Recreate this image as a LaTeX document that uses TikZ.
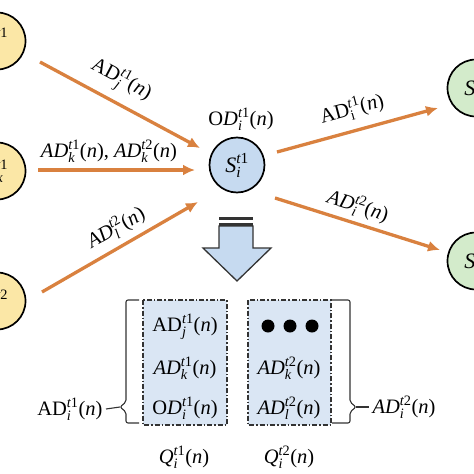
\documentclass[tikz,border=0pt]{standalone}
\usepackage{amsmath}
\usepackage{fontspec}
\setmainfont{Liberation Serif}
\usetikzlibrary{arrows.meta}
\definecolor{arrc}{HTML}{D9813F}
\definecolor{ylw}{HTML}{FBE7A6}
\definecolor{blu}{HTML}{C6DAF0}
\definecolor{grn}{HTML}{D3EBCB}
\definecolor{boxb}{HTML}{DAE6F4}
\definecolor{dk}{HTML}{333333}
\newcommand\lab[3]{$\text{#1}^{\text{\itshape t\upshape #2}}_{\text{#3}}$(\textit{n})}
\newcommand\ess[2]{$\text{\itshape S}^{\text{\itshape t\upshape #1}}_{\text{\itshape #2}}$}
\begin{document}
\begin{tikzpicture}[x=1pt,y=-1pt,
  every node/.style={font=\fontsize{20.5}{23}\selectfont},
  circ/.style={circle,draw=black,line width=1.7pt,minimum size=57pt,inner sep=0pt},
  ycirc/.style={circ,fill=ylw},
  bcirc/.style={circ,fill=blu,minimum size=55pt,font=\fontsize{22}{24}\selectfont},
  gcirc/.style={circ,fill=grn,font=\fontsize{22}{24}\selectfont},
  arr/.style={draw=arrc,line width=3.3pt,-{Latex[length=12pt,width=11pt]}},
  qbox/.style={draw=dk,fill=boxb,line width=1.3pt,dash pattern=on 5pt off 2pt on 1.5pt off 2pt},
  brk/.style={draw=dk,line width=1.1pt,rounded corners=2pt},
  dot/.style={circle,fill=black,minimum size=13pt,inner sep=0pt}]
\useasboundingbox (0,0) rectangle (474,474);
% circles
\node[ycirc] (yl1) at (-3,41) {\ess{1}{j}};
\node[ycirc] (yl2) at (-3,171) {\ess{1}{k}};
\node[ycirc] (yl3) at (-3,301) {\ess{2}{l}};
\node[bcirc] (c) at (237,165) {\ess{1}{i}};
\node[gcirc] (g1) at (476,88) {\ess{1}{m}};
\node[gcirc] (g2) at (476,261) {\ess{2}{m}};
\node (od) at (241,119) {\lab{O\itshape D}{1}{\itshape i}};
% arrow ends
\coordinate (a1s) at (40,62);  \coordinate (a1e) at (200,148);
\coordinate (a2s) at (38,170); \coordinate (a2e) at (195,170);
\coordinate (a3s) at (42,292); \coordinate (a3e) at (198,202);
\coordinate (a4s) at (277,152); \coordinate (a4e) at (438,108);
\coordinate (a5s) at (275,198); \coordinate (a5e) at (440,250);
\draw[arr] (a1s) -- (a1e);
\draw[arr] (a2s) -- (a2e);
\draw[arr] (a3s) -- (a3e);
\draw[arr] (a4s) -- (a4e);
\draw[arr] (a5s) -- (a5e);
% arrow labels
\node[rotate=-28] (l1) at (121,80) {\lab{AD}{1}{\itshape j}};
\node (l2) at (109,151) {\lab{\itshape AD}{1}{\itshape k}, \lab{\itshape AD}{2}{\itshape k}};
\node[rotate=30] (l3) at (116,228) {\lab{\itshape AD}{2}{\itshape l}};
\node[rotate=15] (l4) at (352,109) {\lab{AD}{1}{i}};
\node[rotate=-17] (l5) at (358,206) {\lab{\itshape AD}{2}{\itshape i}};
% down arrow
\fill[dk] (219,216.5) rectangle (253,220);
\fill[dk] (219,222.5) rectangle (253,226);
\draw[draw=dk,fill=blu,line width=1.3pt] (219,226) -- (253,226) -- (253,248) -- (271,248) -- (237,281) -- (203,248) -- (219,248) -- cycle;
% boxes
\draw[qbox] (143,300) rectangle (227,425);
\draw[qbox] (248,300) rectangle (331,425);
\node (b11) at (185,327) {\lab{AD}{1}{\itshape j}};
\node (b12) at (185,368) {\lab{\itshape AD}{1}{\itshape k}};
\node (b13) at (185,408) {\lab{O\itshape D}{1}{\itshape i}};
\node[dot] (d1) at (268,326) {};
\node[dot] (d2) at (290,326) {};
\node[dot] (d3) at (312,326) {};
\node (b22) at (289,368) {\lab{\itshape AD}{2}{\itshape k}};
\node (b23) at (289,408) {\lab{\itshape AD}{2}{\itshape l}};
% brackets
\draw[brk] (139,300) -- (126,300) -- (126,402) -- (120,407) -- (126,412) -- (126,423) -- (139,423);
\draw[brk] (332,300) -- (350,300) -- (350,402) -- (356,407) -- (350,412) -- (350,423) -- (332,423);
\node[anchor=east] (lt1) at (106,409) {\lab{AD}{1}{\itshape i}};
\coordinate (pl) at (120,407);
\draw[dk,line width=1.1pt] (lt1.east) -- (pl);
\node[anchor=west] (lt2) at (369,407) {\lab{\itshape AD}{2}{\itshape i}};
\coordinate (pr) at (356,407);
\draw[dk,line width=1.1pt] (pr) -- (lt2.west);
% Q labels
\node (q1) at (184,457) {\lab{\itshape Q}{1}{\itshape i}};
\node (q2) at (289,457) {\lab{\itshape Q}{2}{\itshape i}};
\end{tikzpicture}
\end{document}
